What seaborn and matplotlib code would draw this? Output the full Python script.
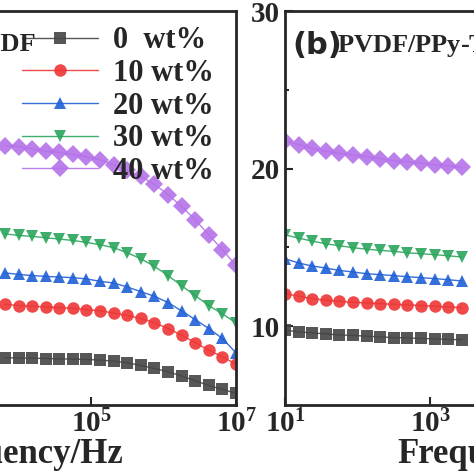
import numpy as np
import matplotlib
matplotlib.use("Agg")
import matplotlib.pyplot as plt
import seaborn as sns
import pandas as pd

sns.set_style("ticks")
plt.rcParams['font.family'] = ['Liberation Serif', 'DejaVu Serif']
plt.rcParams['font.weight'] = 'bold'
plt.rcParams['mathtext.fontset'] = 'custom'
plt.rcParams['mathtext.rm'] = 'Liberation Serif:bold'
plt.rcParams['mathtext.it'] = 'Liberation Serif:bold'
plt.rcParams['mathtext.bf'] = 'Liberation Serif:bold'

labels = ["0  wt%", "10 wt%", "20 wt%", "30 wt%", "40 wt%"]
colors = ["#454545", "#ee3535", "#1f5fd6", "#2aa55c", "#b572e8"]
markers = ["s", "o", "^", "v", "D"]

# panel (a): log10 frequency of visible points
logf_a = [3.8125, 4.0, 4.1875, 4.375, 4.5625, 4.75, 4.9375, 5.125, 5.3125, 5.5,
          5.6875, 5.875, 6.0625, 6.25, 6.4375, 6.625, 6.8125, 7.0]
a0 = [7.99, 7.99, 7.97, 7.95, 7.93, 7.91, 7.89, 7.85, 7.78, 7.68, 7.51, 7.32, 7.11, 6.84, 6.54, 6.24, 5.99, 5.74]
a10 = [11.39, 11.31, 11.27, 11.22, 11.18, 11.14, 11.05, 10.97, 10.84, 10.68, 10.49, 10.21, 9.85, 9.43, 8.95, 8.48, 8.06, 7.59]
a20 = [13.38, 13.29, 13.21, 13.16, 13.12, 13.08, 13.0, 12.85, 12.74, 12.49, 12.19, 11.90, 11.50, 10.97, 10.42, 9.85, 9.22, 8.31]
a30 = [15.86, 15.76, 15.70, 15.61, 15.53, 15.44, 15.32, 15.17, 14.98, 14.66, 14.28, 13.80, 13.21, 12.57, 11.94, 11.31, 10.78, 10.21]
a40 = [21.46, 21.4, 21.25, 21.1, 21.03, 20.9, 20.76, 20.55, 20.25, 19.9, 19.5, 19.0, 18.35, 17.6, 16.75, 15.8, 14.85, 13.86]

# panel (b)
logf_b = [1.0, 1.1875, 1.375, 1.5625, 1.75, 1.9375, 2.125, 2.3125, 2.5, 2.6875,
          2.875, 3.0625, 3.25, 3.4375]
b0 = [9.75, 9.64, 9.58, 9.51, 9.45, 9.41, 9.37, 9.32, 9.28, 9.26, 9.22, 9.20, 9.16, 9.14]
b10 = [12.07, 11.90, 11.75, 11.65, 11.58, 11.52, 11.48, 11.43, 11.39, 11.35, 11.31, 11.27, 11.22, 11.18]
b20 = [14.28, 14.01, 13.82, 13.69, 13.54, 13.44, 13.33, 13.27, 13.21, 13.14, 13.08, 13.02, 12.95, 12.87]
b30 = [15.80, 15.59, 15.40, 15.23, 15.11, 14.98, 14.89, 14.81, 14.75, 14.66, 14.60, 14.54, 14.47, 14.39]
b40 = [21.77, 21.52, 21.29, 21.10, 20.97, 20.87, 20.76, 20.63, 20.51, 20.42, 20.34, 20.25, 20.17, 20.08]

W = 474
fig = plt.figure(figsize=(4.74, 4.74), dpi=100)
axw = 435 / W
bottom = 69 / W
h = 394 / W
axA = fig.add_axes([(236 - 435) / W, bottom, axw, h])
axB = fig.add_axes([285 / W, bottom, axw, h])

def draw(ax, logf, series):
    f = 10 ** np.array(logf)
    for lab, c, m, ys in zip(labels, colors, markers, series):
        df = pd.DataFrame({"f": f, "v": ys})
        sns.lineplot(data=df, x="f", y="v", ax=ax, color=c, lw=1, alpha=0.9,
                     marker=m, markersize=9, markeredgewidth=0, label=lab,
                     legend=False)
    ax.set_xscale("log")
    ax.set_xlim(10, 1e7)
    ax.set_ylim(5, 30)
    ax.set_yticks([10, 20, 30])
    ax.set_yticks([15, 25], minor=True)
    ax.tick_params(which="both", direction="in", labelsize=21, width=1.5)
    ax.tick_params(which="major", length=6)
    ax.tick_params(which="minor", length=3)
    for s in ax.spines.values():
        s.set_linewidth(2)
    ax.set_xlabel("Frequency/Hz", fontsize=25, fontweight="bold", labelpad=0)
    ax.set_ylabel("")

draw(axA, logf_a, [a0, a10, a20, a30, a40])
draw(axB, logf_b, [b0, b10, b20, b30, b40])

leg = axA.legend(loc="upper right", bbox_to_anchor=(0.985, 1.0), frameon=False,
                 handlelength=2.5, labelspacing=0.12, borderaxespad=0.1,
                 handletextpad=0.5, prop={"size": 22, "weight": "bold"})

fig.text(36 / W, 1 - 45 / W, "(a) PVDF", ha="right", va="center",
         fontsize=19, fontweight="bold")
fig.text(292 / W, 1 - 45 / W, "(b)", ha="left", va="center",
         fontsize=22, fontweight="bold", family="DejaVu Sans")
fig.text(337 / W, 1 - 45 / W, "PVDF/PPy-TiO$_2$", ha="left", va="center",
         fontsize=19, fontweight="bold")

fig.savefig("out.png", dpi=100)
